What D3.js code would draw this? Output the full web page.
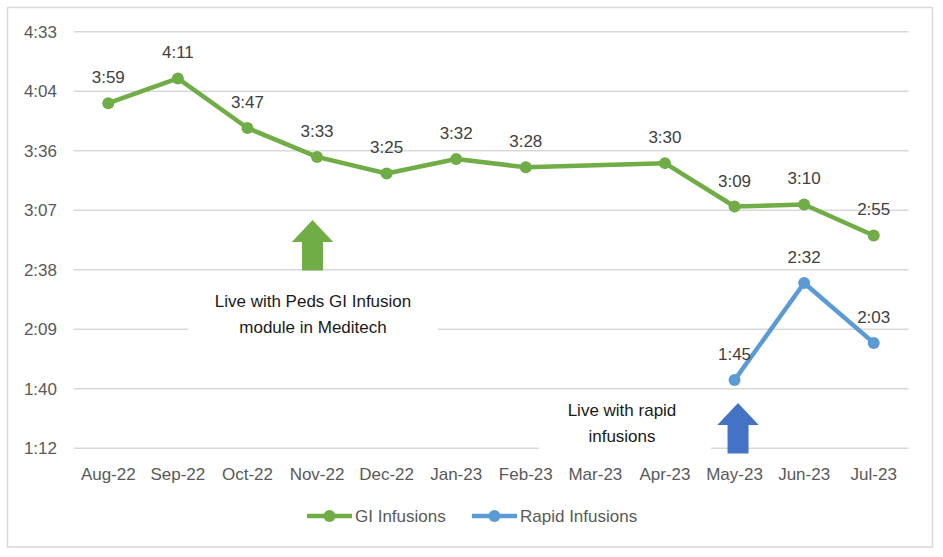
<!DOCTYPE html>
<html>
<head>
<meta charset="utf-8">
<script src="https://cdn.jsdelivr.net/npm/d3@7"></script>
<style>
  html, body { margin: 0; padding: 0; background: #fff; }
  svg text { font-family: "Liberation Sans", Arial, sans-serif; }
</style>
</head>
<body>
<svg id="chart"></svg>
<script>
  const months = ["Aug-22", "Sep-22", "Oct-22", "Nov-22", "Dec-22", "Jan-23",
    "Feb-23", "Mar-23", "Apr-23", "May-23", "Jun-23", "Jul-23"];
  // null = no value that month (line is bridged over the gap)
  const giInfusions = ["3:59", "4:11", "3:47", "3:33", "3:25", "3:32",
    "3:28", null, "3:30", "3:09", "3:10", "2:55"];
  const rapidInfusions = [null, null, null, null, null, null,
    null, null, null, "1:45", "2:32", "2:03"];
  // axis ticks in Excel day fractions, with the labels Excel shows
  const yTickDays = [0.05, 0.07, 0.09, 0.11, 0.13, 0.15, 0.17, 0.19];
  const yTickLabels = ["1:12", "1:40", "2:09", "2:38", "3:07", "3:36", "4:04", "4:33"];

  const width = 943;
  const height = 557;
  const margin = { top: 31.7, right: 34.5, bottom: 108.7, left: 73.5 };
  const fontSize = 17;

  const toMinutes = (s) => {
    const [h, m] = s.split(":").map(Number);
    return h * 60 + m;
  };

  const series = [
    { name: "GI Infusions", values: giInfusions, color: "#70AD47" },
    { name: "Rapid Infusions", values: rapidInfusions, color: "#5B9BD5" },
  ].map((s) => ({
    ...s,
    points: s.values
      .map((v, i) => ({ month: months[i], label: v, minutes: v ? toMinutes(v) : null }))
      .filter((d) => d.minutes !== null),
  }));

  const svg = d3.select("#chart").attr("width", width).attr("height", height);

  // chart frame
  svg.append("rect")
    .attr("x", 7.5).attr("y", 7.5)
    .attr("width", 925).attr("height", 539.5)
    .attr("fill", "#fff")
    .attr("stroke", "#D9D9D9")
    .attr("stroke-width", 1.5);

  const x = d3.scalePoint()
    .domain(months)
    .range([margin.left, width - margin.right])
    .padding(0.5);

  const y = d3.scaleLinear()
    .domain([d3.min(yTickDays) * 1440, d3.max(yTickDays) * 1440])
    .range([height - margin.bottom, margin.top]);

  // gridlines
  svg.append("g")
    .selectAll("line")
    .data(yTickDays)
    .join("line")
    .attr("x1", margin.left)
    .attr("x2", width - margin.right)
    .attr("y1", (d) => y(d * 1440))
    .attr("y2", (d) => y(d * 1440))
    .attr("stroke", "#D9D9D9")
    .attr("stroke-width", 1.5);

  // y labels
  svg.append("g")
    .selectAll("text")
    .data(yTickDays)
    .join("text")
    .attr("x", 57)
    .attr("y", (d) => y(d * 1440) + 6)
    .attr("text-anchor", "end")
    .attr("font-size", fontSize)
    .attr("fill", "#595959")
    .text((d, i) => yTickLabels[i]);

  // x labels
  svg.append("g")
    .selectAll("text")
    .data(months)
    .join("text")
    .attr("x", (d) => x(d))
    .attr("y", 479.5)
    .attr("text-anchor", "middle")
    .attr("font-size", fontSize)
    .attr("fill", "#595959")
    .text((d) => d);

  // annotation boxes (white, knock out the gridlines)
  function note(cx, lines, box, baseY) {
    svg.append("rect")
      .attr("x", box.x).attr("y", box.y)
      .attr("width", box.w).attr("height", box.h)
      .attr("fill", "#fff");
    svg.append("text")
      .attr("text-anchor", "middle")
      .attr("font-size", fontSize)
      .attr("fill", "#1a1a1a")
      .selectAll("tspan")
      .data(lines)
      .join("tspan")
      .attr("x", cx)
      .attr("y", (d, i) => baseY + i * 26)
      .text((d) => d);
  }

  note(313, ["Live with Peds GI Infusion", "module in Meditech"],
    { x: 188, y: 284, w: 250, h: 56 }, 307);
  note(622, ["Live with rapid", "infusions"],
    { x: 539, y: 394, w: 172, h: 58 }, 416);

  // block arrows pointing up
  function upArrow(cx, tipY, baseY, color) {
    const headW = 20.7, shaftW = 10.5, headH = 22;
    const pts = [
      [cx, tipY],
      [cx + headW, tipY + headH],
      [cx + shaftW, tipY + headH],
      [cx + shaftW, baseY],
      [cx - shaftW, baseY],
      [cx - shaftW, tipY + headH],
      [cx - headW, tipY + headH],
    ];
    svg.append("path")
      .attr("d", d3.line()(pts) + "Z")
      .attr("fill", color);
  }

  upArrow(x("Nov-22") - 4.5, 220, 270.5, "#70AD47");
  upArrow(x("May-23") + 3.5, 403, 453.5, "#4472C4");

  const line = d3.line()
    .x((d) => x(d.month))
    .y((d) => y(d.minutes));

  series.forEach((s) => {
    const g = svg.append("g");
    g.append("path")
      .datum(s.points)
      .attr("d", line)
      .attr("fill", "none")
      .attr("stroke", s.color)
      .attr("stroke-width", 4.5)
      .attr("stroke-linejoin", "round")
      .attr("stroke-linecap", "round");

    g.selectAll("circle")
      .data(s.points)
      .join("circle")
      .attr("cx", (d) => x(d.month))
      .attr("cy", (d) => y(d.minutes))
      .attr("r", 6)
      .attr("fill", s.color);

    g.selectAll("text")
      .data(s.points)
      .join("text")
      .attr("x", (d) => x(d.month))
      .attr("y", (d) => y(d.minutes) - 20)
      .attr("text-anchor", "middle")
      .attr("font-size", fontSize)
      .attr("fill", "#404040")
      .text((d) => d.label);
  });

  // legend
  const legend = svg.append("g").attr("transform", "translate(0,516)");
  const legendX = [307, 472];
  series.forEach((s, i) => {
    const lg = legend.append("g").attr("transform", `translate(${legendX[i]},0)`);
    lg.append("line")
      .attr("x1", 0).attr("x2", 45)
      .attr("stroke", s.color)
      .attr("stroke-width", 4.5);
    lg.append("circle")
      .attr("cx", 22.5)
      .attr("r", 6)
      .attr("fill", s.color);
    lg.append("text")
      .attr("x", 48)
      .attr("y", 6)
      .attr("font-size", fontSize)
      .attr("fill", "#595959")
      .text(s.name);
  });
</script>
</body>
</html>
